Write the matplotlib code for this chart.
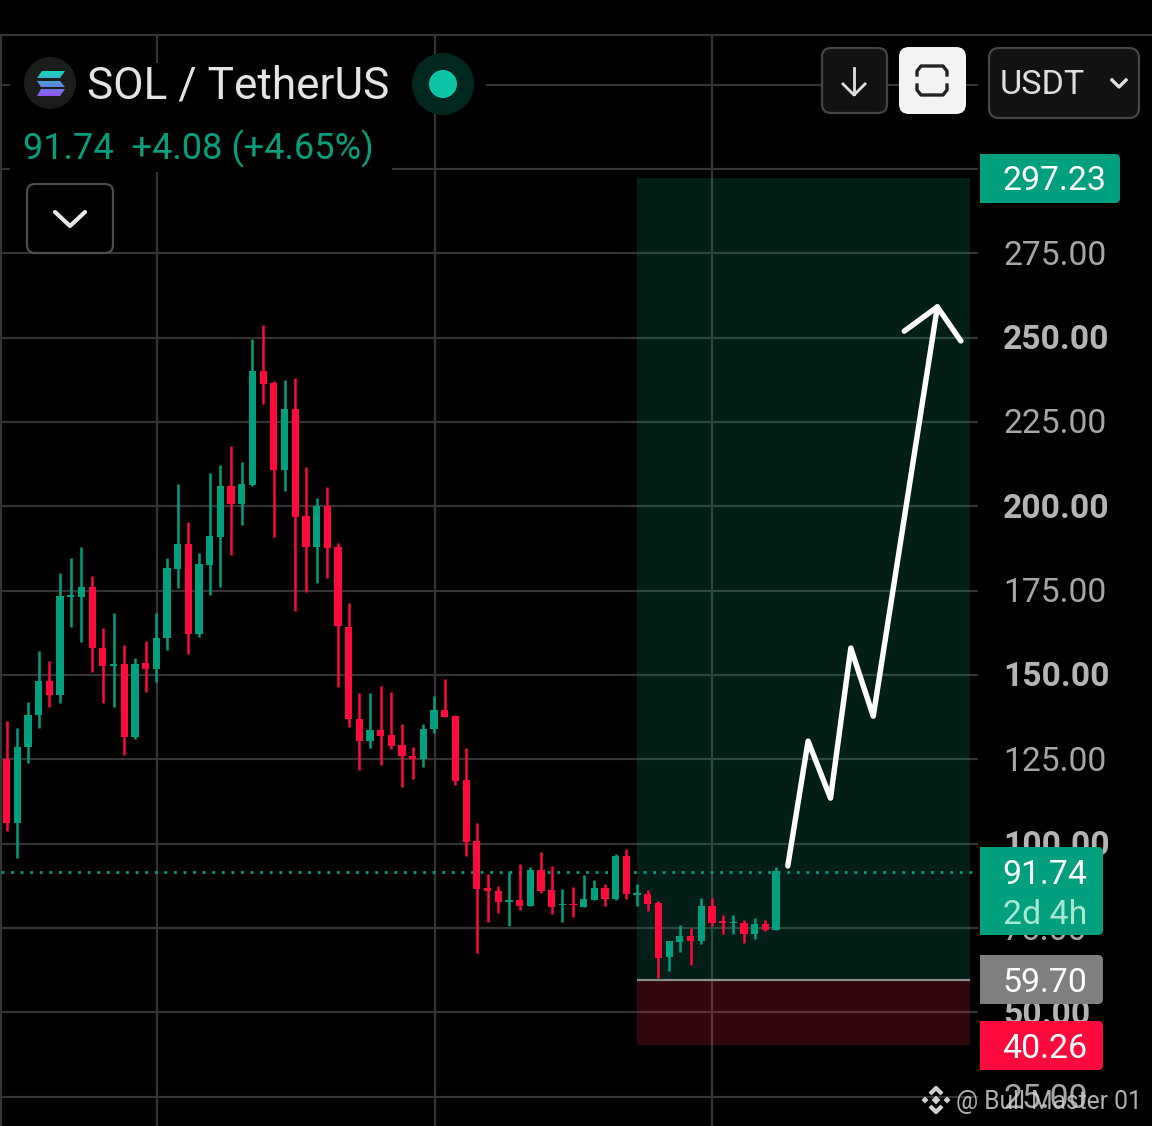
import matplotlib
matplotlib.use("Agg")
import matplotlib.pyplot as plt
import numpy as np
from matplotlib.patches import FancyBboxPatch, Rectangle, Circle, Polygon

# ---------- data ----------
opens = [125.1,106.0,128.6,138.0,148.1,144.1,173.1,173.2,176.0,158.0,152.8,153.2,131.5,153.5,151.8,161.1,
         181.5,188.8,162.1,182.6,191.0,206.0,200.7,206.3,240.0,236.5,210.9,228.7,197.0,187.9,200.1,187.8,
         164.2,137.1,130.3,133.6,132.2,129.3,126.1,125.1,133.9,139.7,137.9,118.9,100.8,86.9,86.1,82.8,
         83.4,81.5,92.2,86.3,81.7,82.1,81.3,83.4,86.8,83.5,96.4,84.8,85.1,82.4,66.3,70.9,72.5,71.3,
         81.6,77.1,76.4,76.6,73.3,76.2,74.4]
closes = [106.0,128.6,138.1,148.1,144.1,173.3,173.5,176.0,157.9,152.6,153.4,131.7,153.4,151.8,161.1,181.7,
          188.8,162.1,182.8,191.1,206.0,200.7,206.5,240.0,236.2,210.9,228.7,196.8,188.0,200.1,187.7,164.4,
          137.0,130.3,133.6,132.0,129.1,125.9,125.1,134.1,139.7,137.7,118.7,100.6,86.7,86.0,82.6,83.4,
          81.4,92.3,86.0,81.3,82.1,81.7,83.5,86.8,83.6,96.5,85.0,85.3,82.1,66.2,71.2,72.5,71.3,81.6,
          76.6,76.6,76.8,73.3,76.1,74.4,91.8]
highs = [136.3,134.2,142.0,157.2,154.1,180.3,184.8,187.8,179.4,163.8,168.4,158.8,154.9,160.0,168.4,184.6,
         206.5,195.3,186.2,210.0,212.1,218.0,213.1,249.7,253.7,237.0,237.3,238.0,211.6,202.5,205.6,189.2,
         171.4,144.8,144.8,146.8,145.0,135.6,128.8,135.6,143.7,148.8,138.0,128.4,106.1,91.0,87.5,92.0,
         94.0,93.2,97.6,93.4,86.5,87.1,90.7,89.3,88.1,97.0,98.5,88.1,86.3,83.1,71.2,75.9,75.0,83.9,
         83.8,79.0,78.9,77.4,77.9,77.4,93.2]
lows = [103.9,95.7,123.8,134.2,140.5,141.8,164.3,159.8,150.9,141.8,140.5,126.3,131.1,145.0,147.9,157.4,
        175.8,156.1,161.4,173.7,176.1,185.6,194.5,205.9,230.2,191.0,204.4,169.0,174.5,177.2,178.8,146.3,
        134.6,121.9,128.4,123.2,128.0,116.8,119.2,122.6,132.7,137.7,117.3,96.5,67.5,76.7,79.6,75.5,
        80.4,81.5,85.3,79.1,76.7,78.4,81.3,83.4,81.4,83.3,83.5,81.4,80.0,60.2,62.2,68.0,64.1,70.4,
        75.6,73.3,73.3,70.5,71.9,74.1,74.4]

grid_prices = [25,50,75,100,125,150,175,200,225,250,275,300,325]
grid_indices = [-0.5,14.02,40.09,66.03]
axis_labels = ["275.00","250.00","225.00","200.00","175.00","150.00","125.00","100.00","75.00","50.00","25.00"]
axis_values = [275,250,225,200,175,150,125,100,75,50,25]
bold_labels = {"250.00","200.00","150.00","100.00","50.00"}

last_price = 91.74
target_price = 297.23
entry_price = 59.70
stop_price = 40.26
zone_start, zone_end = 59.0, 90.2

arrow_idx = [73.1,75.0,77.1,79.0,81.1,87.1]
arrow_price = [93.4,130.4,113.5,158.0,137.8,259.1]
head_idx = [84.0,87.1,89.3]
head_price = [251.9,259.1,249.0]

title = "SOL / TetherUS"
change_text = "91.74  +4.08 (+4.65%)"

UP = "#00a07f"
DOWN = "#ff0a3c"
GRID = "#343434"
W, H = 1152, 1126
PX_X0, PX_DX = 6.7, 10.685
PX_Y100, PX_PER = 843.7, 3.374

plt.rcParams["font.family"] = ["Roboto", "DejaVu Sans"]
fig = plt.figure(figsize=(W/100, H/100), dpi=100, facecolor="black")

# ---------- chart axes: index / price scales ----------
ax = fig.add_axes([0, 0, 1, 1], facecolor="black", zorder=1)
ax.set_xlim((0-PX_X0)/PX_DX, (W-PX_X0)/PX_DX)
ax.set_ylim(100+(PX_Y100-H)/PX_PER, 100+PX_Y100/PX_PER)
ax.axis("off")

top_price = 100+(PX_Y100-35)/PX_PER
ax.hlines(grid_prices, ax.get_xlim()[0], 90.9, color=GRID, lw=1.6, zorder=1)
ax.hlines(top_price, *ax.get_xlim(), color=GRID, lw=1.6, zorder=1)
ax.vlines(grid_indices, ax.get_ylim()[0], top_price, color=GRID, lw=1.6, zorder=1)

ax.add_patch(Rectangle((zone_start, entry_price), zone_end-zone_start, target_price-entry_price,
                       fc="#0ea07d", alpha=0.19, lw=0, zorder=2))
ax.add_patch(Rectangle((zone_start, stop_price), zone_end-zone_start, entry_price-stop_price,
                       fc="#ff2346", alpha=0.2, lw=0, zorder=2))
ax.hlines(entry_price, zone_start, zone_end, color="#8a8a8a", lw=1.6, zorder=2.5)

ax.hlines(last_price, ax.get_xlim()[0]+0.05, 90.9, color=UP, lw=2.0,
          linestyles=(0, (1.0, 2.45)), zorder=2.5)

idx = np.arange(len(opens))
o, c, hi, lo = map(np.array, (opens, closes, highs, lows))
cols = [UP if b >= a else DOWN for a, b in zip(o, c)]
ax.vlines(idx, lo, hi, colors=cols, lw=1.8, zorder=3)
ax.bar(idx, np.maximum(np.abs(c-o), 0.5), bottom=np.minimum(o, c), width=0.68, color=cols, lw=0, zorder=3.1)

ax.plot(arrow_idx, arrow_price, color="white", lw=3.9, solid_capstyle="round", solid_joinstyle="round", zorder=5)
ax.plot(head_idx, head_price, color="white", lw=3.9, solid_capstyle="round", solid_joinstyle="round", zorder=5)

for lab, v in zip(axis_labels, axis_values):
    ax.text((1003-PX_X0)/PX_DX, v+0.3, lab, color="#b4b4b4" if lab in bold_labels else "#a6a6a6",
            fontsize=24.2, fontweight="bold" if lab in bold_labels else "normal",
            va="center_baseline", ha="left", zorder=4)

# ---------- interface overlay: pixel coordinates ----------
ui = fig.add_axes([0, 0, 1, 1], facecolor="none", zorder=2)
ui.set_xlim(0, W); ui.set_ylim(H, 0); ui.axis("off")

def box(x0, y0, x1, y1, fc, ec="none", r=6, lw=1.6, z=3):
    ui.add_patch(FancyBboxPatch((x0+r, y0+r), x1-x0-2*r, y1-y0-2*r,
                                boxstyle=f"round,pad={r},rounding_size={r}",
                                fc=fc, ec=ec, lw=lw, zorder=z, mutation_aspect=1))

def tag(x0, y0, x1, y1, fc):
    box(x0, y0, x1, y1, fc, r=5)
    ui.add_patch(Rectangle((x0, y0), 10, y1-y0, fc=fc, lw=0, zorder=3))

# masks behind the legend block
ui.add_patch(Rectangle((10, 63), 382, 109, fc="black", lw=0, zorder=1))
ui.add_patch(Rectangle((392, 76), 94, 17, fc="black", lw=0, zorder=1))

# legend
ui.add_patch(Circle((50, 83), 26, fc="#1b1d1d", lw=0, zorder=2))
grad = np.linspace(0, 1, 64)[:, None]
colors = np.array([(0.05, 0.88, 0.70)])*(1-grad) + np.array([(0.62, 0.28, 1.0)])*grad
img = colors[:, None, :]
for pts in ([(42, 71), (65, 71), (60, 78), (37, 78)],
            [(37, 81), (60, 81), (65, 87), (41, 87)],
            [(41, 89), (65, 89), (60, 96), (37, 96)]):
    im = ui.imshow(img, extent=(34, 68, 98, 69), aspect="auto", zorder=2.5, interpolation="bilinear")
    pg = Polygon(pts, closed=True, transform=ui.transData, fc="none", lw=0)
    ui.add_patch(pg)
    im.set_clip_path(pg)
ui.set_xlim(0, W); ui.set_ylim(H, 0)

ui.text(87, 82, title, color="#e4e4e4", fontsize=31.8, va="center_baseline", ha="left", zorder=4)
ui.add_patch(Circle((443, 84), 31, fc="#02271f", lw=0, zorder=2))
ui.add_patch(Circle((443, 84), 14, fc="#0ec4a6", lw=0, zorder=3))
ui.text(23, 145, change_text, color=UP, fontsize=26, va="center_baseline", ha="left", zorder=4)

box(27, 184, 113, 253, "black", "#4c4c4c", r=8)
ui.plot([55, 70, 85], [212, 226, 212], color="#e8e8e8", lw=3, solid_capstyle="round", zorder=4)

# header buttons
box(822, 48, 887, 113, "#121212", "#444444", r=9)
ui.plot([854, 854], [68, 94], color="#e0e0e0", lw=2, zorder=4)
ui.plot([843, 854, 865], [84, 95, 84], color="#e0e0e0", lw=2, zorder=4)
box(899, 47, 966, 114, "#f2f4f3", r=10)
ui.plot([917, 917, 921, 943, 947, 947], [75, 71, 66, 66, 71, 75], color="#222222", lw=2.4, solid_joinstyle="round", zorder=4)
ui.plot([917, 917, 921, 943, 947, 947], [85, 90, 95, 95, 90, 85], color="#222222", lw=2.4, solid_joinstyle="round", zorder=4)
box(989, 48, 1139, 118, "#121212", "#444444", r=10)
ui.text(1000, 81, "USDT", color="#dedede", fontsize=24.6, va="center_baseline", ha="left", zorder=4)
ui.plot([1112, 1119, 1126], [80, 87, 80], color="#e0e0e0", lw=2.4, zorder=4)

# price tags
tag(980, 154, 1120, 203, UP)
ui.text(1055, 178, "297.23", color="white", fontsize=24.4, ha="center", va="center_baseline", zorder=4)
tag(980, 847, 1103, 935, UP)
ui.text(1045, 872, "91.74", color="white", fontsize=24.4, ha="center", va="center_baseline", zorder=4)
ui.text(1045, 911, "2d 4h", color="#a9e6d4", fontsize=24.4, ha="center", va="center_baseline", zorder=4)
tag(980, 955, 1103, 1004, "#808080")
ui.text(1045, 979, "59.70", color="white", fontsize=24.4, ha="center", va="center_baseline", zorder=4)
tag(980, 1021, 1103, 1070, DOWN)
ui.text(1045, 1045, "40.26", color="white", fontsize=24.4, ha="center", va="center_baseline", zorder=4)

# watermark
WM = "#cfcfcf"
for cx, cy, s in ((936, 1100, 4.5), (925, 1100, 3.5), (947, 1100, 3.5)):
    ui.add_patch(Polygon([(cx-s, cy), (cx, cy-s), (cx+s, cy), (cx, cy+s)], fc=WM, lw=0, zorder=5))
ui.plot([930, 936, 942], [1094, 1088, 1094], color=WM, lw=3, zorder=5, solid_capstyle="butt")
ui.plot([930, 936, 942], [1106, 1112, 1106], color=WM, lw=3, zorder=5, solid_capstyle="butt")
ui.text(956, 1100, "@ Bull Master 01", color=WM, alpha=0.85, fontsize=17.7, va="center_baseline", ha="left", zorder=5)

fig.savefig("out.png", dpi=100, facecolor="black")
